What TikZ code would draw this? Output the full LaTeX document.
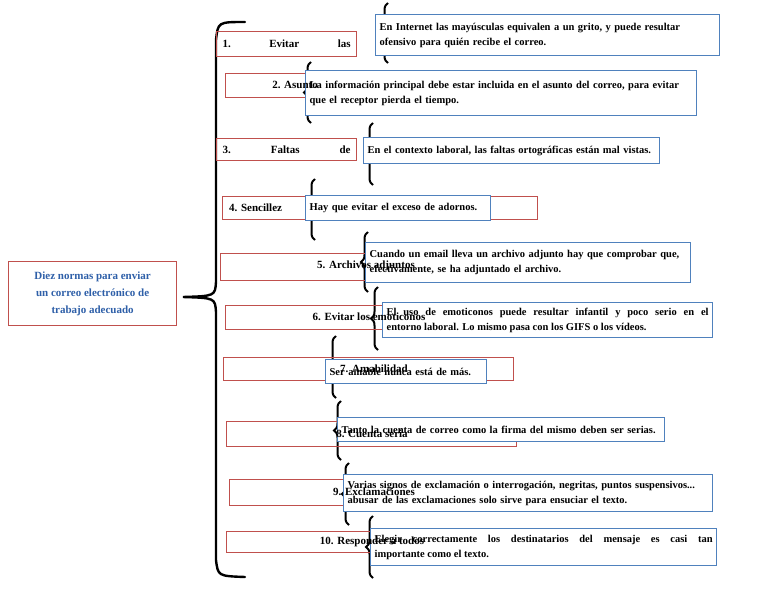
\documentclass[tikz,border=0pt]{standalone}
\usepackage{fontspec}
\setmainfont{Liberation Serif}
\usetikzlibrary{decorations.pathreplacing}
\definecolor{boxred}{HTML}{C0504D}
\definecolor{boxblue}{HTML}{4F81BD}
\definecolor{titleblue}{HTML}{2E5FA8}
\tikzset{
  rulebox/.style={draw=boxred, line width=1.2pt, anchor=north west, inner sep=0pt},
  notebox/.style={draw=boxblue, line width=1.2pt, fill=white, anchor=north west, inner sep=4pt,
    font=\bfseries\fontsize{10.5}{15}\selectfont, align=left},
  ruletext/.style={font=\bfseries\fontsize{11}{12}\selectfont, inner sep=0pt},
  smallbrace/.style={decorate, decoration={brace, amplitude=7pt}, line width=2pt},
}
\begin{document}
\begin{tikzpicture}[x=1pt, y=-1pt]
  \useasboundingbox (0,0) rectangle (768,594);
  % Title box
  \node[draw=boxred, line width=1.2pt, anchor=north west, minimum width=168pt, minimum height=64pt,
    align=center, text=titleblue, font=\bfseries\fontsize{11}{17}\selectfont]
    (title) at (8,261) {Diez normas para enviar\\un correo electrónico de\\trabajo adecuado};
  % Braces
  \coordinate (bigtip) at (183,297);
  \draw[line width=2.4pt, line cap=round] (245,22) .. controls (218,22) .. (216,40) -- (216,282)
    .. controls (215,296) .. (bigtip) .. controls (215,298) .. (216,312) -- (216,560)
    .. controls (218,576) .. (245,577);
  \foreach \bx/\ba/\bb in {388/3/63, 311/62/123, 373/123/185, 315/179/240, 368/232/292,
      378/287/350, 336/336/398, 341/401/460, 349/463/525, 373/516/578}
    \draw[smallbrace] (\bx,\bb) -- (\bx,\ba);
  % Rule boxes
  \node[rulebox, minimum width=140pt, minimum height=25pt] (r1) at (216,31) {};
  \node[rulebox, minimum width=136pt, minimum height=24pt] (r2) at (225,73) {};
  \node[rulebox, minimum width=140pt, minimum height=22pt] (r3) at (216,138) {};
  \node[rulebox, minimum width=315pt, minimum height=23pt] (r4) at (222,196) {};
  \node[rulebox, minimum width=290pt, minimum height=27pt] (r5) at (220,253) {};
  \node[rulebox, minimum width=287pt, minimum height=24pt] (r6) at (225,305) {};
  \node[rulebox, minimum width=290pt, minimum height=23pt] (r7) at (223,357) {};
  \node[rulebox, minimum width=290pt, minimum height=25pt] (r8) at (226,421) {};
  \node[rulebox, minimum width=290pt, minimum height=26pt] (r9) at (229,479) {};
  \node[rulebox, minimum width=292pt, minimum height=21pt] (r10) at (226,531) {};
  % Note boxes
  \node[notebox, text width=336pt, minimum height=41pt] (n1) at (375,14)
    {En Internet las mayúsculas equivalen a un grito, y puede resultar\\ofensivo para quién recibe el correo.};
  \node[notebox, text width=383pt, minimum height=45pt] (n2) at (305,70)
    {La información principal debe estar incluida en el asunto del correo, para evitar\\que el receptor pierda el tiempo.};
  \node[notebox, text width=288pt, minimum height=26pt] (n3) at (363,137)
    {En el contexto laboral, las faltas ortográficas están mal vistas.};
  \node[notebox, text width=177pt, minimum height=25pt] (n4) at (305,195)
    {Hay que evitar el exceso de adornos.};
  \node[notebox, text width=317pt, minimum height=40pt] (n5) at (365,242)
    {Cuando un email lleva un archivo adjunto hay que comprobar que,\\efectivamente, se ha adjuntado el archivo.};
  \node[notebox, text width=322pt, minimum height=35pt, align=justify] (n6) at (382,302)
    {El uso de emoticonos puede resultar infantil y poco serio en el\linebreak entorno laboral. Lo mismo pasa con los GIFS o los vídeos.};
  \node[notebox, text width=153pt, minimum height=24pt] (n7) at (325,359)
    {Ser amable nunca está de más.};
  \node[notebox, text width=319pt, minimum height=24pt] (n8) at (337,417)
    {Tanto la cuenta de correo como la firma del mismo deben ser serias.};
  \node[notebox, text width=361pt, minimum height=37pt] (n9) at (343,474)
    {Varias signos de exclamación o interrogación, negritas, puntos suspensivos...\\abusar de las exclamaciones solo sirve para ensuciar el texto.};
  \node[notebox, text width=338pt, minimum height=37pt, align=justify] (n10) at (370,528)
    {Elegir correctamente los destinatarios del mensaje es casi tan\linebreak importante como el texto.};
  % Rule texts
  \node[ruletext, text width=128pt] at (r1.center) {1.\hfill Evitar\hfill las};
  \node[ruletext, anchor=east] at (318,85) {2. Asunto};
  \node[ruletext, text width=128pt] at (r3.center) {3.\hfill Faltas\hfill de};
  \node[ruletext, anchor=west] at (229,208) {4. Sencillez};
  \node[ruletext] at (366,266) {5. Archivos adjuntos};
  \node[ruletext] at (369,317) {6. Evitar los emoticonos};
  \node[ruletext] at (374,369) {7. Amabilidad};
  \node[ruletext] at (372,434) {8. Cuenta seria};
  \node[ruletext] at (374,492) {9. Exclamaciones};
  \node[ruletext] at (372,542) {10. Responder a todos};
\end{tikzpicture}
\end{document}
